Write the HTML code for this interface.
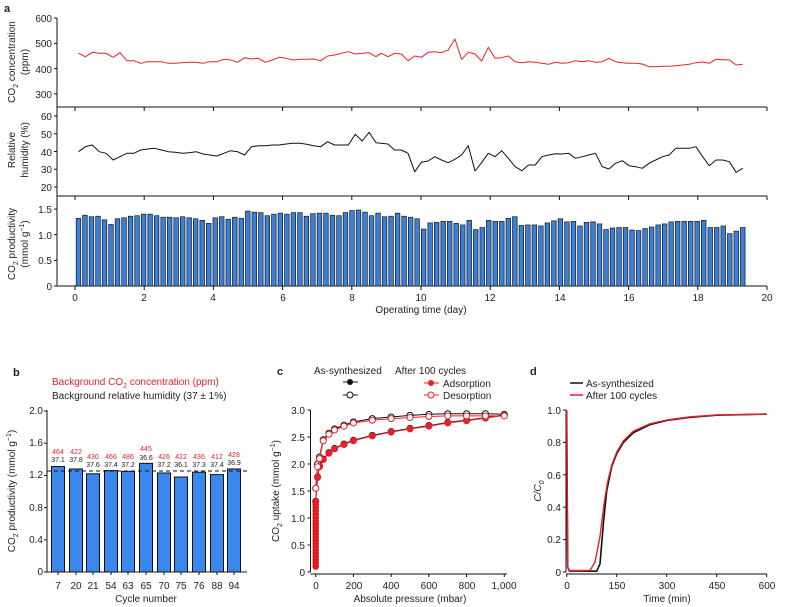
<!DOCTYPE html>
<html><head><meta charset="utf-8"><style>
body{margin:0;background:#fff;}
svg{display:block;font-family:"Liberation Sans",Arial,sans-serif;}
text{fill:#222;}
</style></head><body>
<svg id="s" width="785" height="607" viewBox="0 0 785 607" xmlns="http://www.w3.org/2000/svg">
<g id="g"></g>
<!-- panel a text -->
<text x="4" y="12" font-size="11" font-weight="bold">a</text>
<g font-size="10" text-anchor="end">
<text x="52" y="22">600</text><text x="52" y="47">500</text><text x="52" y="73">400</text><text x="52" y="98">300</text>
<text x="52" y="120">60</text><text x="52" y="138">50</text><text x="52" y="156">40</text><text x="52" y="173">30</text><text x="52" y="191">20</text>
<text x="52" y="213">1.5</text><text x="52" y="239">1.0</text><text x="52" y="264">0.5</text><text x="52" y="290">0</text>
</g>
<g font-size="10" text-anchor="middle">
<text x="75" y="301">0</text><text x="144" y="301">2</text><text x="213" y="301">4</text><text x="283" y="301">6</text><text x="352" y="301">8</text><text x="421" y="301">10</text><text x="490" y="301">12</text><text x="560" y="301">14</text><text x="629" y="301">16</text><text x="698" y="301">18</text><text x="767" y="301">20</text>
<text x="421" y="313">Operating time (day)</text>
</g>
<g font-size="10" text-anchor="middle">
<text transform="translate(15,62) rotate(-90)">CO<tspan font-size="7" dy="3">2</tspan><tspan dy="-3"> concentration</tspan></text>
<text transform="translate(28,62) rotate(-90)">(ppm)</text>
<text transform="translate(15,150) rotate(-90)">Relative</text>
<text transform="translate(28,150) rotate(-90)">humidity (%)</text>
<text transform="translate(15,244) rotate(-90)">CO<tspan font-size="7" dy="3">2</tspan><tspan dy="-3"> productivity</tspan></text>
<text transform="translate(28,244) rotate(-90)">(mmol g<tspan font-size="7" dy="-4">−1</tspan><tspan dy="4">)</tspan></text>
</g>
<!-- panel b text -->
<text x="13" y="376" font-size="11" font-weight="bold">b</text>
<text x="52" y="385" font-size="10" style="fill:#e8202a">Background CO<tspan font-size="7" dy="3" style="fill:#e8202a">2</tspan><tspan dy="-3" style="fill:#e8202a"> concentration (ppm)</tspan></text>
<text x="52" y="399" font-size="10">Background relative humidity (37 ± 1%)</text>
<g font-size="10" text-anchor="end">
<text x="43" y="414">2.0</text><text x="43" y="446">1.6</text><text x="43" y="478">1.2</text><text x="43" y="511">0.8</text><text x="43" y="543">0.4</text><text x="43" y="575">0</text>
</g>
<text transform="translate(15,491) rotate(-90)" font-size="10" text-anchor="middle">CO<tspan font-size="7" dy="3">2</tspan><tspan dy="-3"> productivity (mmol g</tspan><tspan font-size="7" dy="-4">−1</tspan><tspan dy="4">)</tspan></text>
<g font-size="10" text-anchor="middle" id="blab">
<text x="58" y="589">7</text><text x="76" y="589">20</text><text x="93" y="589">21</text><text x="111" y="589">54</text><text x="128" y="589">63</text><text x="146" y="589">65</text><text x="164" y="589">70</text><text x="181" y="589">75</text><text x="199" y="589">76</text><text x="217" y="589">88</text><text x="234" y="589">94</text>
<text x="146" y="602">Cycle number</text>
</g>
<g font-size="7" text-anchor="middle" style="fill:#e8202a">
<text x="58" y="454" style="fill:#e8202a">464</text><text x="76" y="454" style="fill:#e8202a">422</text><text x="93" y="459" style="fill:#e8202a">430</text><text x="111" y="459" style="fill:#e8202a">466</text><text x="128" y="459" style="fill:#e8202a">486</text><text x="146" y="451" style="fill:#e8202a">445</text><text x="164" y="459" style="fill:#e8202a">426</text><text x="181" y="459" style="fill:#e8202a">422</text><text x="199" y="459" style="fill:#e8202a">436</text><text x="217" y="459" style="fill:#e8202a">412</text><text x="234" y="457" style="fill:#e8202a">428</text>
</g>
<g font-size="7" text-anchor="middle">
<text x="58" y="462">37.1</text><text x="76" y="462">37.8</text><text x="93" y="467">37.6</text><text x="111" y="467">37.4</text><text x="128" y="467">37.2</text><text x="146" y="460">36.6</text><text x="164" y="467">37.2</text><text x="181" y="467">36.1</text><text x="199" y="467">37.3</text><text x="217" y="467">37.4</text><text x="234" y="465">36.9</text>
</g>
<!-- panel c text -->
<text x="277" y="375" font-size="11" font-weight="bold">c</text>
<text x="314" y="374" font-size="10">As-synthesized</text>
<text x="395" y="374" font-size="10">After 100 cycles</text>
<text x="443" y="387" font-size="10">Adsorption</text>
<text x="443" y="399" font-size="10">Desorption</text>
<g font-size="10" text-anchor="end">
<text x="305" y="414">3.0</text><text x="305" y="441">2.5</text><text x="305" y="468">2.0</text><text x="305" y="495">1.5</text><text x="305" y="522">1.0</text><text x="305" y="549">0.5</text><text x="305" y="576">0</text>
</g>
<g font-size="10" text-anchor="middle">
<text x="316" y="589">0</text><text x="354" y="589">200</text><text x="391" y="589">400</text><text x="429" y="589">600</text><text x="467" y="589">800</text><text x="504" y="589">1,000</text>
<text x="410" y="602">Absolute pressure (mbar)</text>
</g>
<text transform="translate(279,491) rotate(-90)" font-size="10" text-anchor="middle">CO<tspan font-size="7" dy="3">2</tspan><tspan dy="-3"> uptake (mmol g</tspan><tspan font-size="7" dy="-4">−1</tspan><tspan dy="4">)</tspan></text>
<!-- panel d text -->
<text x="530" y="375" font-size="11" font-weight="bold">d</text>
<text x="586" y="387" font-size="10">As-synthesized</text>
<text x="586" y="399" font-size="10">After 100 cycles</text>
<g font-size="10" text-anchor="end">
<text x="561" y="414">1.0</text><text x="561" y="446">0.8</text><text x="561" y="479">0.6</text><text x="561" y="511">0.4</text><text x="561" y="543">0.2</text><text x="561" y="576">0</text>
</g>
<g font-size="10" text-anchor="middle">
<text x="567" y="589">0</text><text x="617" y="589">150</text><text x="667" y="589">300</text><text x="717" y="589">450</text><text x="767" y="589">600</text>
<text x="667" y="602">Time (min)</text>
</g>
<text transform="translate(541,491) rotate(-90)" font-size="10" font-style="italic" text-anchor="middle">C/C<tspan font-size="7" dy="3">0</tspan></text>
</svg>
<script>
var g=document.getElementById('g'),NS='http://www.w3.org/2000/svg';
function el(t,a){var e=document.createElementNS(NS,t);for(var k in a)e.setAttribute(k,a[k]);g.appendChild(e);return e;}
function line(x1,y1,x2,y2,c,w,d){var o={x1:x1,y1:y1,x2:x2,y2:y2,stroke:c||'#111','stroke-width':w||1};if(d)o['stroke-dasharray']=d;el('line',o);}
function pl(pts,c,w){el('polyline',{points:pts.map(p=>p[0].toFixed(1)+','+p[1].toFixed(1)).join(' '),fill:'none',stroke:c,'stroke-width':w||1,'stroke-linejoin':'round'});}
// panel a axes
var X=d=>75+d*34.6;
line(57,18,57,286);
[[600,18],[500,43.3],[400,68.6],[300,93.9]].forEach(t=>line(54,t[1],57,t[1]));
for(var v=20;v<=60;v+=10){var y=187-(v-20)*1.775;line(54,y,57,y);}
for(var v=0;v<=1.5;v+=0.5){var y=286-v*51.3;line(54,y,57,y);}
[107,196,286].forEach(y=>{line(57,y,767,y);for(var d=0;d<=20;d+=2)line(X(d),y,X(d),y+4);});
// bars
var L=[1.32,1.38,1.35,1.36,1.29,1.20,1.31,1.33,1.36,1.37,1.40,1.40,1.37,1.34,1.34,1.33,1.35,1.33,1.31,1.28,1.22,1.33,1.35,1.30,1.34,1.32,1.46,1.44,1.43,1.37,1.40,1.42,1.40,1.43,1.43,1.36,1.41,1.42,1.42,1.38,1.37,1.43];
var R=[1.47,1.48,1.44,1.37,1.42,1.35,1.36,1.42,1.36,1.34,1.31,1.11,1.23,1.24,1.26,1.26,1.22,1.19,1.28,1.10,1.14,1.28,1.26,1.26,1.32,1.35,1.18,1.19,1.19,1.17,1.23,1.27,1.31,1.25,1.26,1.17,1.24,1.25,1.21,1.10,1.13,1.14,1.14,1.09,1.08,1.12,1.15,1.19,1.21,1.25,1.26,1.26,1.26,1.26,1.28,1.14,1.14,1.17,1.02,1.07,1.14];
var B=L.concat(R);var n=B.length;
B.forEach((v,i)=>{var d=0.1+i*(19.2/(n-1));var h=v*51.3;el('rect',{x:X(d)-2.3,y:286-h,width:4.6,height:h,fill:'#3a7fd8',stroke:'#1a1a1a','stroke-width':0.7});});
// red line
var rl=[160,170,157,160,160,172,158,182,182,190,185,185,185,190,190,188,187,187,190,185,185,178,180,187,173,177,175,187,180,172,175,180,178,178,177,182,168,165,160,155,162,160,158,170];
var rr=[160,170,160,162,182,168,172,157,155,158,150,117,178,157,162,183,142,175,173,168,185,188,185,187,190,193,187,190,188,182,185,182,187,185,175,185,188,190,190,192,200,200,199,199,197,195,193,188,186,190,178,179,180,195,193];
var pts=[];rl.forEach((z,i)=>pts.push([X(0.1+i*0.2),z/3]));rr.forEach((z,i)=>pts.push([X(8.85+i*(10.45/(rr.length-1))),z/3]));pl(pts,'#e8202a',1);
var bl=[455,440,435,455,460,480,470,460,460,450,447,445,450,455,457,460,458,455,462,465,468,460,452,455,465,440,437,437,435,435,432,430,430,433,437,440,425,435,435,435,403,423,397,428];
var br=[430,432,450,450,460,515,487,483,470,480,488,478,465,437,513,488,460,470,452,475,500,512,495,495,470,465,461,462,460,475,470,465,460,500,507,490,482,497,500,505,490,480,470,465,445,445,445,440,470,497,480,480,485,517,505];
pts=[];bl.forEach((z,i)=>pts.push([X(0.1+i*0.2),z/3]));br.forEach((z,i)=>pts.push([X(8.85+i*(10.45/(br.length-1))),z/3]));pl(pts,'#111',1);
// panel b
line(47,410,47,572);line(47,572,247,572);
for(var v=0;v<=2;v+=0.4){var y=572-v*80.5;line(44,y,47,y);}
var bv=[1.31,1.28,1.22,1.26,1.25,1.35,1.23,1.18,1.24,1.21,1.28],bx=[58,76,93,111,128,146,164,181,199,217,234];
bv.forEach((v,i)=>{var h=v*80.5;el('rect',{x:bx[i]-6.5,y:572-h,width:13,height:h,fill:'#3a87ee',stroke:'#111','stroke-width':1});line(bx[i],572,bx[i],575);});
line(47,471,247,471,'#111',1,'4,3');
// panel c
var PX=p=>315.7+p*0.1886,PY=v=>572-v*54;
line(310.5,410,310.5,572);line(310.5,574,507,574);
for(var v=0;v<=3;v+=0.5)line(307.5,PY(v),310.5,PY(v));
for(var p=0;p<=1000;p+=200)line(PX(p),574,PX(p),577);
var pr=[0,10,20,40,70,100,150,200,300,400,500,600,700,800,900,1000];
var ads=[1.3,1.75,1.95,2.08,2.2,2.28,2.36,2.43,2.52,2.59,2.65,2.7,2.76,2.8,2.85,2.9];
var desB=[1.55,2.0,2.13,2.45,2.57,2.65,2.72,2.78,2.84,2.87,2.9,2.92,2.93,2.93,2.93,2.92];
var desR=[1.55,1.95,2.1,2.43,2.55,2.63,2.7,2.76,2.81,2.84,2.86,2.88,2.89,2.89,2.89,2.89];
function ser(vals,c,fill){pl(pr.map((p,i)=>[PX(p),PY(vals[i])]),c,1);pr.forEach((p,i)=>el('circle',{cx:PX(p),cy:PY(vals[i]),r:3,fill:fill,stroke:c,'stroke-width':1}));}
ser(ads.map(v=>v+0.01),'#111','#111');ser(desB,'#111','#fff');ser(ads,'#e8202a','#e8202a');ser(desR,'#e8202a','#fff');
for(var v=0.1;v<=1.3;v+=0.06){el('circle',{cx:PX(0),cy:PY(v),r:2.8,fill:'#e8202a',stroke:'#d00','stroke-width':0.8});}
line(PX(0),PY(0.1),PX(0),PY(1.3),'#e8202a',1.5);
// legend c
line(343,382,358,382,'#111');el('circle',{cx:350,cy:382,r:3,fill:'#111'});
line(343,395,358,395,'#111');el('circle',{cx:350,cy:395,r:3,fill:'#fff',stroke:'#111'});
line(424,383,439,383,'#e8202a');el('circle',{cx:431,cy:383,r:3,fill:'#e8202a'});
line(424,395,439,395,'#e8202a');el('circle',{cx:431,cy:395,r:3,fill:'#fff',stroke:'#e8202a'});
// panel d
var TX=t=>566.7+t/3,TY=v=>572-v*162;
line(566,410,566,572);line(566,574,767,574);
for(var v=0;v<=1.01;v+=0.2)line(563,TY(v),566,TY(v));
for(var t=0;t<=600;t+=150)line(TX(t),574,TX(t),577);
var kb=[[0,1],[3,0.03],[8,0.006],[90,0.005],[100,0.05],[110,0.3],[120,0.5],[135,0.65],[150,0.73],[170,0.8],[200,0.86],[250,0.91],[300,0.935],[370,0.955],[450,0.968],[600,0.975]];
var kr=[[0,1],[3,0.03],[8,0.01],[70,0.01],[85,0.06],[100,0.22],[112,0.42],[122,0.55],[135,0.66],[150,0.74],[170,0.81],[200,0.87],[250,0.915],[300,0.938],[370,0.958],[450,0.97],[600,0.975]];
pl(kb.map(p=>[TX(p[0]),TY(p[1])]),'#111',1.6);pl(kr.map(p=>[TX(p[0]),TY(p[1])]),'#e8202a',1.4);
line(570,383,583,383,'#111',1.5);line(570,395,583,395,'#e8202a',1.5);
</script>
</body></html>
